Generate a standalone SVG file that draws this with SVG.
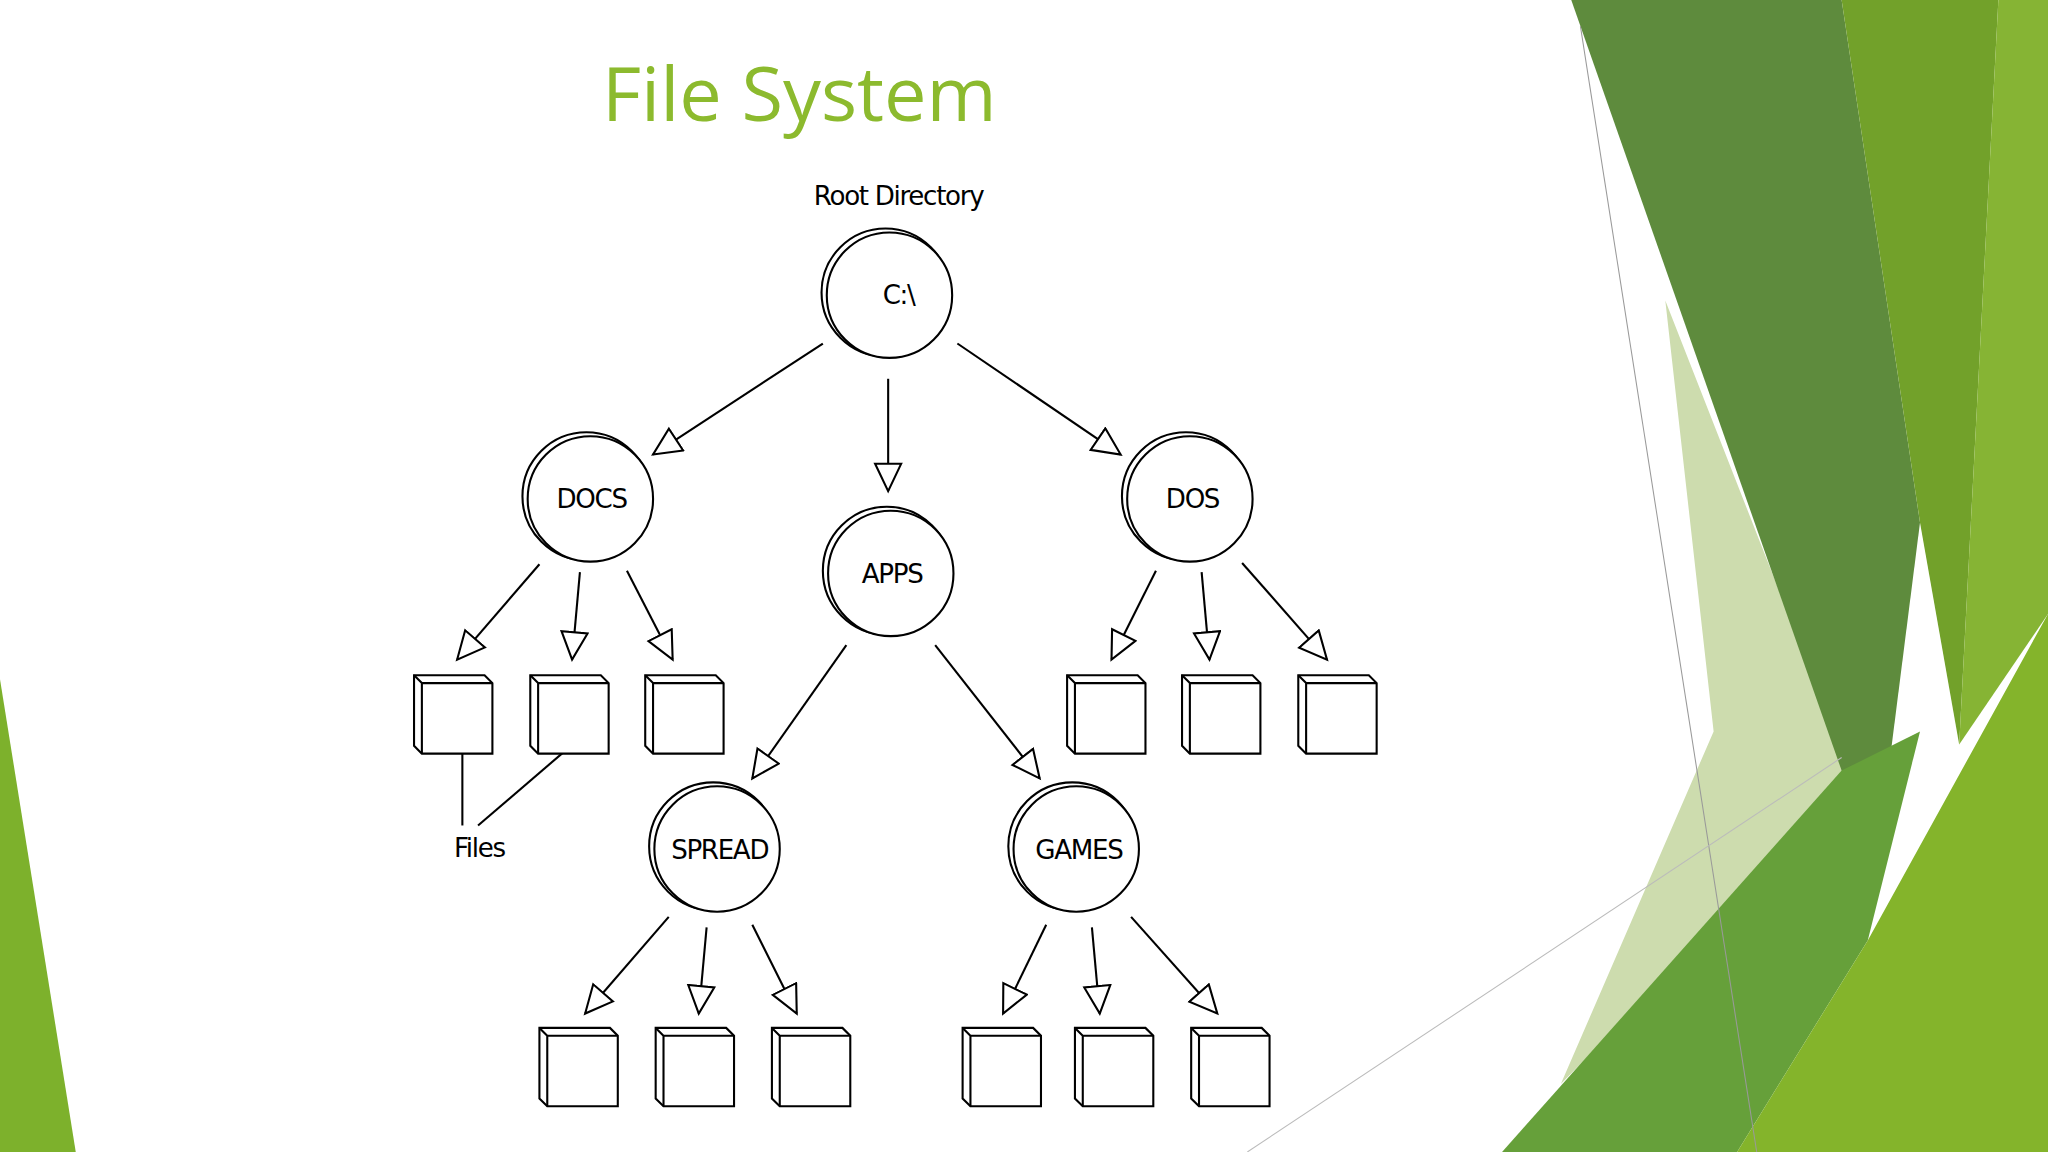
<svg xmlns="http://www.w3.org/2000/svg" xmlns:xlink="http://www.w3.org/1999/xlink" width="2048" height="1152" viewBox="0 0 2048 1152">
<style>
.ln{stroke:#000;stroke-width:1.6;fill:none}
.nd{stroke:#000;stroke-width:1.6;fill:#fff}
.lb{font-family:"DejaVu Sans",sans-serif;font-size:20px;text-anchor:middle;fill:#000;letter-spacing:-1px}
</style>
<defs>
<marker id="ar" markerUnits="userSpaceOnUse" markerWidth="30" markerHeight="30" refX="22" refY="11" orient="auto" viewBox="0 0 30 30">
<path d="M1,1 L22,11 L1,21 Z" fill="#fff" stroke="#000" stroke-width="1.6"/>
</marker>
<g id="cube">
<path class="nd" d="M0,0 L54,0 L60,6 L60,60 L6,60 L0,54 Z"/>
<path class="ln" d="M60,6 L6,6 L6,60 M0,0 L6,6"/>
</g>
<g id="circ">
<circle class="nd" cx="-3" cy="-2" r="49"/>
<circle class="nd" cx="0" cy="0" r="48"/>
</g>
</defs>
<rect width="2048" height="1152" fill="#fff"/>
<g transform="scale(1.30612)">
<g id="background">
<polygon points="1275,230 1420,600 1195,830 1312,560" fill="#cddcae"/>
<polygon points="1203,0 1410,0 1470,400 1437,660 1410,590" fill="#5e8b3d"/>
<polygon points="1410,0 1530,0 1500,570 1470,400" fill="#72a12a"/>
<polygon points="1530,0 1568,0 1568,470 1500,570" fill="#86b434"/>
<polygon points="1150,882 1410,590 1470,560 1430,720 1330,882" fill="#66a03a"/>
<polygon points="1330,882 1430,720 1568,470 1568,882" fill="#84b42b"/>
<polygon points="0,520 0,882 58,882" fill="#7db12c"/>
<line x1="1210" y1="20" x2="1345" y2="882" stroke="#999" stroke-width="0.8"/>
<line x1="955" y1="882" x2="1410" y2="580" stroke="#bbb" stroke-width="0.8"/>
</g>
<text x="612" y="93" font-family="Open Sans, sans-serif" font-size="58" fill="#8cba2e" text-anchor="middle">File System</text>
<text x="688" y="157" class="lb" font-size="22">Root Directory</text>
<g id="connectors">
<g class="ln" marker-end="url(#ar)">
<line x1="630" y1="263" x2="500" y2="348"/>
<line x1="680" y1="290" x2="680" y2="376"/>
<line x1="733" y1="263" x2="858" y2="348"/>
<line x1="413" y1="432" x2="350" y2="505"/>
<line x1="444" y1="438" x2="438" y2="505"/>
<line x1="480" y1="437" x2="515" y2="505"/>
<line x1="648" y1="494" x2="576" y2="596"/>
<line x1="716" y1="494" x2="796" y2="596"/>
<line x1="885" y1="437" x2="851" y2="505"/>
<line x1="920" y1="438" x2="926" y2="505"/>
<line x1="951" y1="431" x2="1016" y2="505"/>
<line x1="512" y1="702" x2="448" y2="776"/>
<line x1="541" y1="710" x2="535" y2="776"/>
<line x1="576" y1="708" x2="610" y2="776"/>
<line x1="801" y1="708" x2="768" y2="776"/>
<line x1="836" y1="710" x2="842" y2="776"/>
<line x1="866" y1="702" x2="932" y2="776"/>
</g>
<line class="ln" x1="354" y1="577" x2="354" y2="632"/>
<line class="ln" x1="436" y1="572" x2="366" y2="632"/>
</g>
<g id="n-root"><use xlink:href="#circ" x="681" y="226"/><text class="lb" x="688" y="233">C:\</text></g>
<g id="n-docs"><use xlink:href="#circ" x="452" y="382"/><text class="lb" x="453" y="389">DOCS</text></g>
<g id="n-apps"><use xlink:href="#circ" x="682" y="439"/><text class="lb" x="683" y="446">APPS</text></g>
<g id="n-dos"><use xlink:href="#circ" x="911" y="382"/><text class="lb" x="913" y="389">DOS</text></g>
<g id="n-spread"><use xlink:href="#circ" x="549" y="650"/><text class="lb" x="551" y="658">SPREAD</text></g>
<g id="n-games"><use xlink:href="#circ" x="824" y="650"/><text class="lb" x="826" y="658">GAMES</text></g>
<g id="files">
<use xlink:href="#cube" x="317" y="517"/>
<use xlink:href="#cube" x="406" y="517"/>
<use xlink:href="#cube" x="494" y="517"/>
<use xlink:href="#cube" x="817" y="517"/>
<use xlink:href="#cube" x="905" y="517"/>
<use xlink:href="#cube" x="994" y="517"/>
<use xlink:href="#cube" x="413" y="787"/>
<use xlink:href="#cube" x="502" y="787"/>
<use xlink:href="#cube" x="591" y="787"/>
<use xlink:href="#cube" x="737" y="787"/>
<use xlink:href="#cube" x="823" y="787"/>
<use xlink:href="#cube" x="912" y="787"/>
</g>
<text class="lb" x="367" y="656">Files</text>
</g>
</svg>
